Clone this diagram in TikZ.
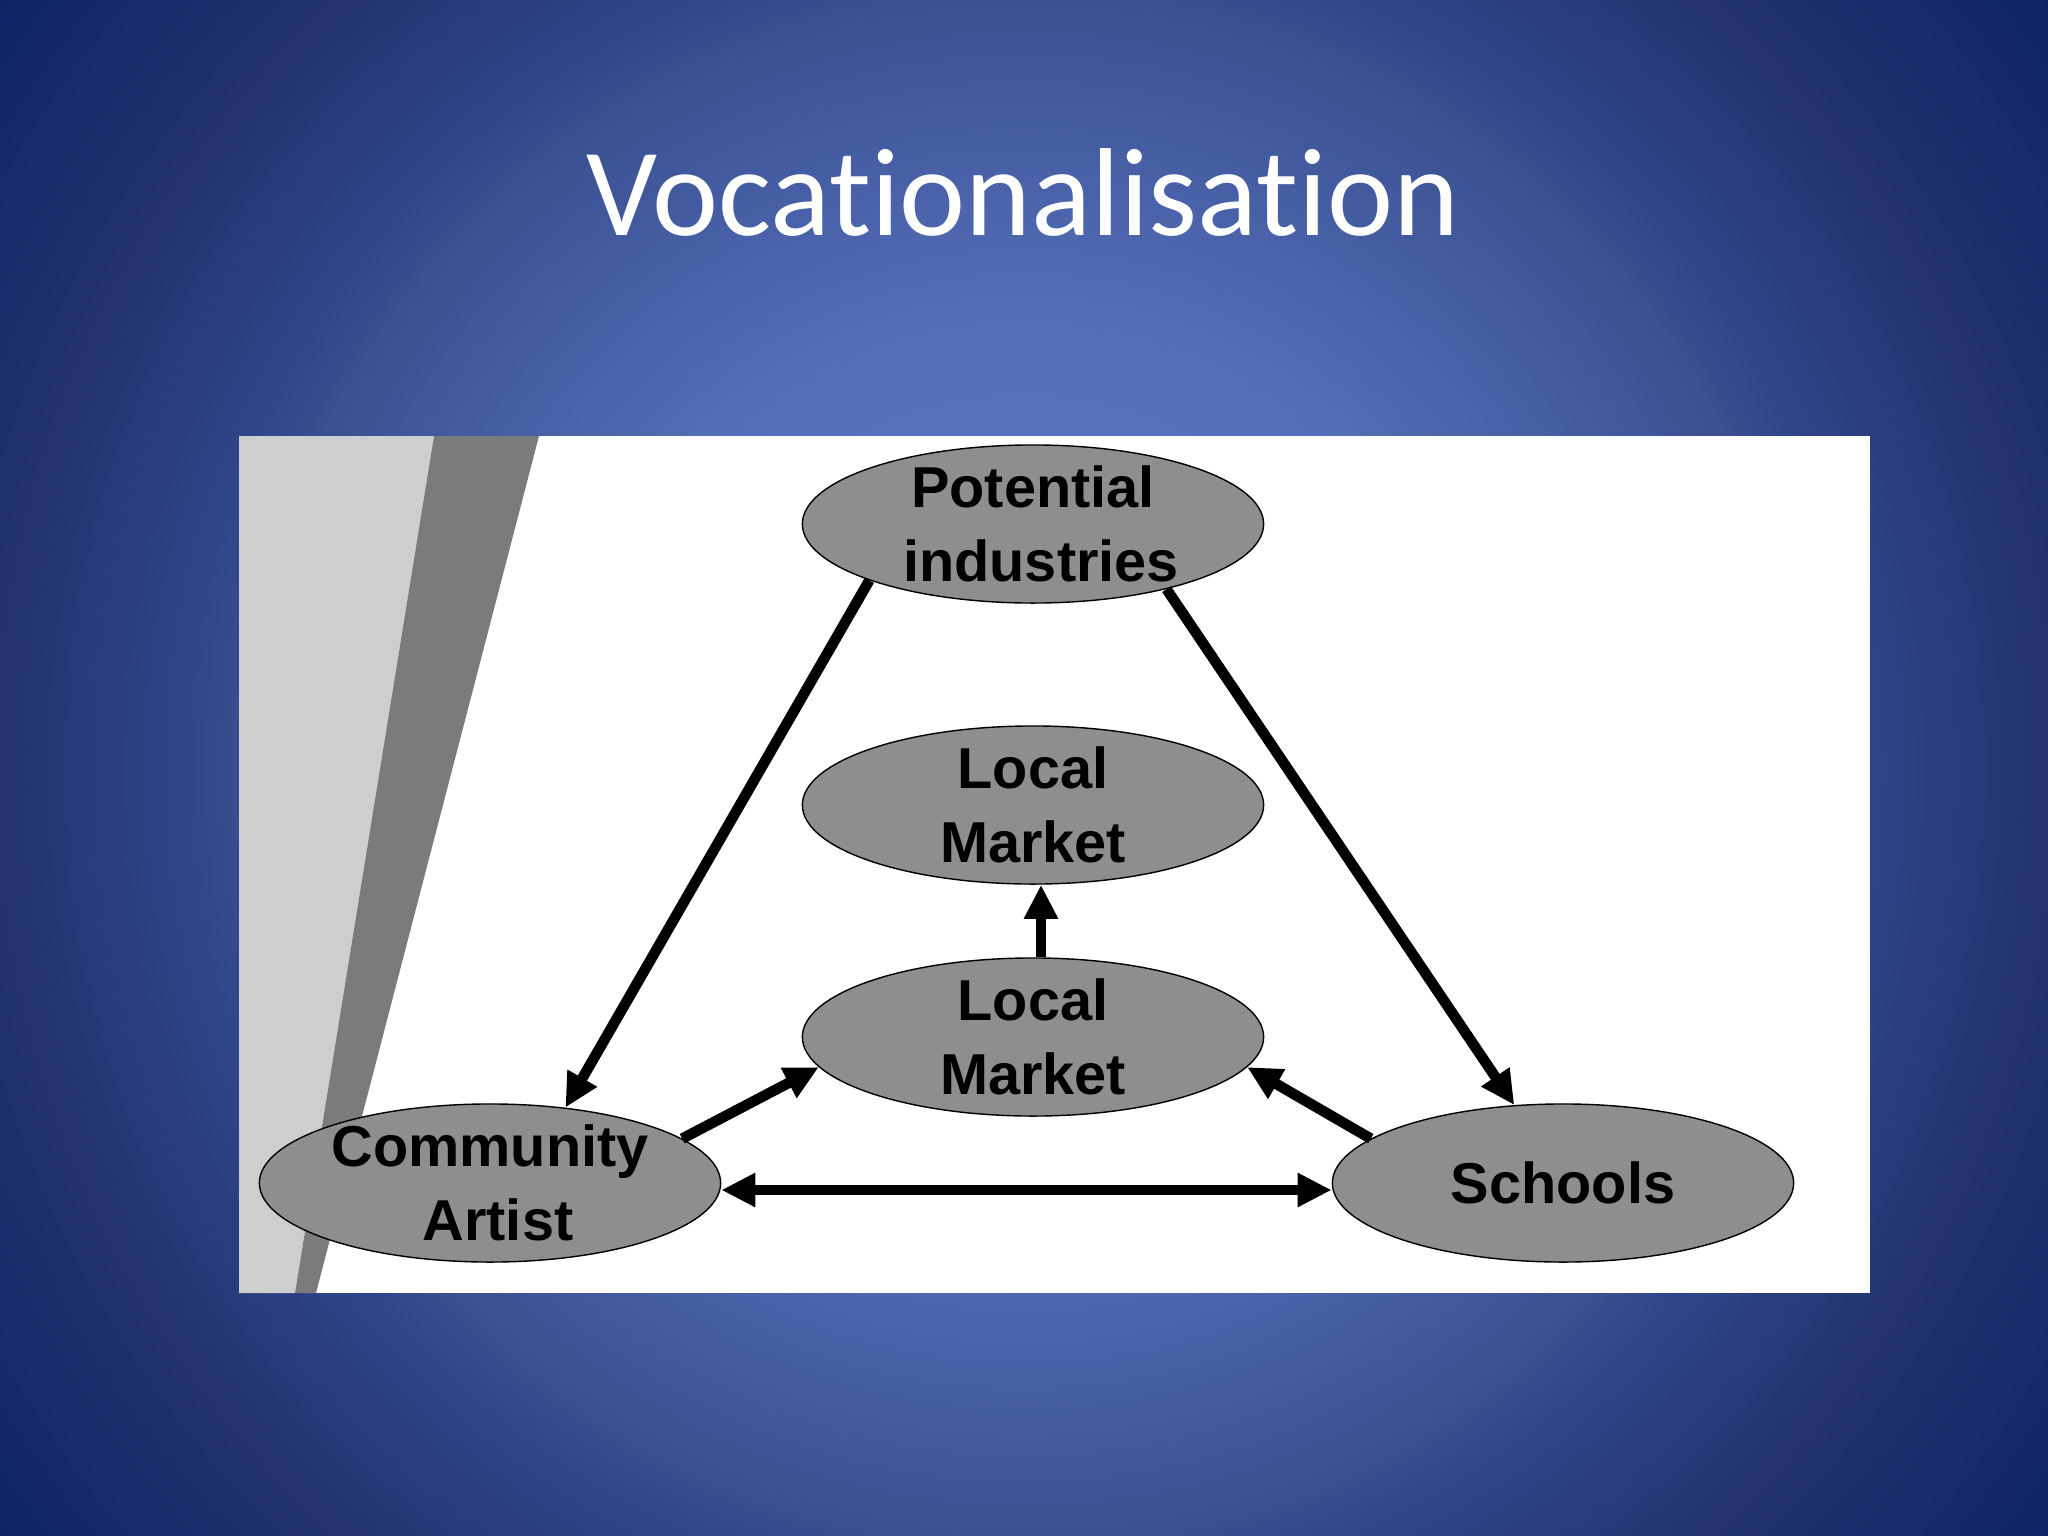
\documentclass[tikz,border=0pt]{standalone}
\usepackage{fontspec}
\setmainfont{Liberation Sans}
\newfontfamily\titlefont[Ligatures=NoCommon]{Carlito}
\usetikzlibrary{arrows.meta,shapes.geometric}
\definecolor{lgray}{RGB}{205,207,206}
\definecolor{dgray}{RGB}{122,123,122}
\definecolor{ellfill}{RGB}{142,142,144}
\definecolor{bgA}{RGB}{94,122,198}
\definecolor{bgB}{RGB}{85,112,184}
\definecolor{bgC}{RGB}{74,99,171}
\definecolor{bgD}{RGB}{58,80,144}
\definecolor{bgE}{RGB}{48,70,138}
\definecolor{bgF}{RGB}{34,51,111}
\definecolor{bgG}{RGB}{15,36,102}
\pgfdeclareradialshading{slidebg}{\pgfpoint{0bp}{0bp}}{color(0bp)=(bgA); color(124.7bp)=(bgB); color(161.6bp)=(bgC); color(218.3bp)=(bgD); color(235.3bp)=(bgE); color(290.3bp)=(bgF); color(362.8bp)=(bgG)}
\tikzset{
  oval/.style={ellipse, draw=black, line width=0.4pt, fill=ellfill, minimum width=4.61cm, minimum height=1.58cm,
    inner sep=0pt, inner ysep=-0.08cm, align=center, font=\bfseries\fontsize{16.4pt}{21pt}\selectfont, text=black},
  conn/.style={line width=3pt, -{Triangle[length=0.34cm,width=0.32cm]}},
  dconn/.style={line width=3pt, {Triangle[length=0.34cm,width=0.32cm]}-{Triangle[length=0.34cm,width=0.32cm]}},
}
\begin{document}
\begin{tikzpicture}[x=0.01cm, y=-0.01cm]
\useasboundingbox (0,0) rectangle (2048,1536);
\begin{scope}
  \clip (0,0) rectangle (2048,1536);
  \node[inner sep=0pt, outer sep=0pt] (bg) at (1024,768) {\pgfuseshading{slidebg}};
\end{scope}
\node[anchor=base, text=white, font=\titlefont\fontsize{35.6pt}{40pt}\selectfont] (title) at (1023,235) {Vocationalisation};
% panel
\fill[white] (239,436) rectangle (1870,1293);
\fill[lgray] (239,436) -- (434,436) -- (295,1293) -- (239,1293) -- cycle;
\fill[dgray] (434,436) -- (539,436) -- (316,1293) -- (295,1293) -- cycle;
% nodes
\node[oval] (pi) at (1033,524) {Potential\\\hspace*{0.16cm}industries};
\node[oval] (lmt) at (1033,805) {Local\\Market};
\node[oval] (lmb) at (1033,1037) {Local\\Market};
\node[oval] (ca) at (490,1183) {Community\\\hspace*{0.16cm}Artist};
\node[oval] (sch) at (1563,1183) {Schools};
% connectors
\draw[conn] (pi.199.5) -- (ca.45);
\draw[conn] (pi.-26.4) -- (sch.122);
\draw[conn] ([xshift=0.08cm]lmb.north) -- ([xshift=0.08cm]lmt.south);
\draw[conn] (ca.13) -- (lmb.188);
\draw[conn] (sch.167) -- (lmb.-8);
\draw[dconn] ([yshift=-0.07cm]ca.east) -- ([yshift=-0.07cm]sch.west);
\end{tikzpicture}
\end{document}
